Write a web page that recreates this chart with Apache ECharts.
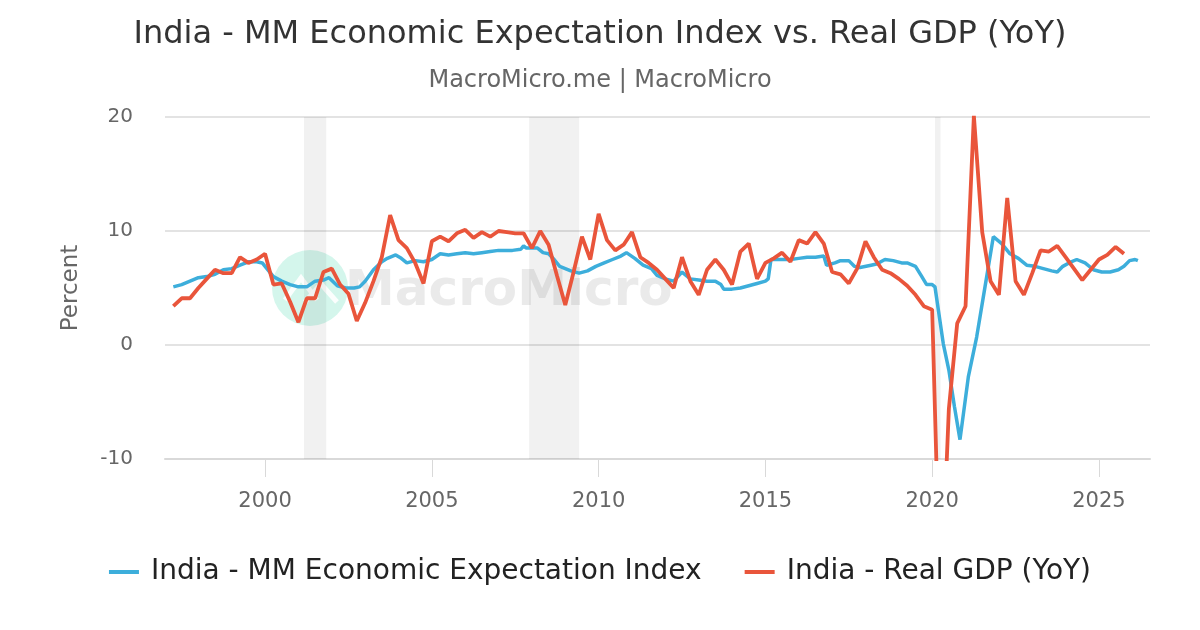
<!DOCTYPE html>
<html>
<head>
<meta charset="utf-8">
<script src="https://cdn.jsdelivr.net/npm/echarts@6/dist/echarts.min.js"></script>
<style>html,body{margin:0;padding:0;background:#fff}#chart{width:1200px;height:630px}</style>
</head>
<body>
<div id="chart"></div>
<script>
// ---- Data ----
const titleText = 'India - MM Economic Expectation Index vs. Real GDP (YoY)';
const subtitleText = 'MacroMicro.me | MacroMicro';
const seriesNames = ['India - MM Economic Expectation Index', 'India - Real GDP (YoY)'];
const yTicks = [-10, 0, 10, 20];
const xTickYears = [2000, 2005, 2010, 2015, 2020, 2025];

// MM Economic Expectation Index
const eeiDates = [
  '1997-04','1997-07','1997-10','1998-01','1998-04','1998-07','1998-10','1999-01','1999-04','1999-07','1999-10','1999-12',
  '2000-01','2000-04','2000-07','2000-10','2001-01','2001-04','2001-07','2001-10','2001-12',
  '2002-03','2002-06','2002-09','2002-11','2003-01','2003-04','2003-07','2003-09','2003-12',
  '2004-02','2004-04','2004-07','2004-10','2005-01','2005-04','2005-07','2005-10',
  '2006-01','2006-04','2006-07','2006-10','2007-01','2007-06','2007-09','2007-10','2007-11',
  '2008-03','2008-05','2008-07','2008-09','2008-11','2009-03','2009-06','2009-09','2009-12',
  '2010-03','2010-06','2010-09','2010-11','2011-02','2011-05','2011-08','2011-10',
  '2012-01','2012-04','2012-07','2012-10','2013-01','2013-04','2013-07','2013-09','2013-10',
  '2014-01','2014-04','2014-07','2014-10','2015-01','2015-02','2015-03','2015-05','2015-08','2015-10',
  '2016-01','2016-04','2016-07','2016-10','2016-11','2017-02','2017-04','2017-07','2017-09','2017-11',
  '2018-03','2018-05','2018-08','2018-11','2019-02','2019-04','2019-07','2019-09','2019-11',
  '2020-01','2020-02','2020-05','2020-07','2020-09','2020-11','2021-02','2021-05','2021-08','2021-11',
  '2022-02','2022-05','2022-08','2022-11','2023-02','2023-05','2023-08','2023-10','2023-12',
  '2024-03','2024-05','2024-08','2024-11','2025-02','2025-05','2025-08','2025-10','2025-12',
  '2026-02','2026-03'
];
const eeiValues = [
  5.1,5.3,5.6,5.9,6.0,6.2,6.6,6.7,7.0,7.3,7.3,7.2,
  6.9,6.0,5.6,5.3,5.1,5.1,5.6,5.7,5.9,
  5.2,5.0,5.0,5.1,5.6,6.6,7.3,7.6,7.9,
  7.6,7.2,7.4,7.3,7.5,8.0,7.9,8.0,
  8.1,8.0,8.1,8.2,8.3,8.3,8.4,8.7,8.5,
  8.5,8.1,8.0,7.5,6.9,6.5,6.3,6.5,6.9,
  7.2,7.5,7.8,8.1,7.6,7.0,6.7,6.1,
  5.8,5.6,6.4,5.8,5.7,5.6,5.6,5.3,4.9,
  4.9,5.0,5.2,5.4,5.6,5.8,7.5,7.5,7.5,7.5,
  7.6,7.7,7.7,7.8,7.0,7.2,7.4,7.4,6.9,6.8,
  7.0,7.1,7.5,7.4,7.2,7.2,6.9,6.1,5.3,
  5.3,5.1,0.1,-2.2,-5.4,-8.3,-2.8,0.7,5.1,9.5,
  8.9,8.0,7.6,7.0,6.9,6.7,6.5,6.4,6.9,
  7.3,7.5,7.2,6.6,6.4,6.4,6.6,6.9,7.4,
  7.5,7.4
];

// Real GDP YoY, quarterly from 1997 Q2
const gdpFirstYear = 1997, gdpFirstQuarter = 2;
const gdpValues = [
  3.4,4.1,4.1,
  5.0,5.8,6.6,6.3,
  6.3,7.7,7.2,7.5,
  8.0,5.3,5.4,3.8,
  2.0,4.1,4.1,6.4,
  6.7,5.3,4.5,2.1,
  3.7,5.6,7.7,11.4,
  9.2,8.5,7.2,5.4,
  9.1,9.5,9.1,9.8,
  10.1,9.4,9.9,9.5,
  10.0,9.9,9.8,9.8,
  8.5,10.0,8.8,6.1,
  3.5,6.4,9.5,7.5,
  11.5,9.2,8.3,8.8,
  9.9,7.7,7.2,6.6,
  5.8,5.0,7.7,5.6,
  4.4,6.6,7.5,6.6,
  5.3,8.2,8.9,5.8,
  7.2,7.6,8.1,7.3,
  9.2,8.9,9.9,8.9,
  6.4,6.2,5.4,6.7,
  9.1,7.7,6.6,6.3,
  5.8,5.2,4.4,3.4,
  3.1,-23.4,-5.6,1.9,
  3.4,20.1,9.9,5.6,
  4.4,12.9,5.6,4.4,
  6.3,8.3,8.2,8.7,
  7.7,6.7,5.7,6.6,
  7.5,7.9,8.6,8.0
];

// Recession periods (shaded)
const recessions = [['2001-03','2001-11'], ['2007-12','2009-06'], ['2020-02','2020-04']];
const xStart = '1997-01', xEnd = '2026-07';

// ---- Build ----
// convert 'YYYY-MM' to a decimal year position on the value axis
const toYear = s => { const p = s.split('-'); return +p[0] + (+p[1] - 1) / 12; };
const gdpDates = gdpValues.map((_, i) => {
  const q = gdpFirstQuarter - 1 + i;
  const y = gdpFirstYear + Math.floor(q / 4);
  const m = (q % 4) * 3 + 1;
  return y + '-' + String(m).padStart(2, '0');
});
const eeiData = eeiDates.map((d, i) => [toYear(d), eeiValues[i]]);
const gdpData = gdpDates.map((d, i) => [toYear(d), gdpValues[i]]);

const FONT = 'DejaVu Sans';
const chart = echarts.init(document.getElementById('chart'), null, {renderer: 'canvas'});
chart.setOption({
  animation: false,
  backgroundColor: '#ffffff',
  textStyle: {fontFamily: FONT},
  title: {
    text: titleText,
    subtext: subtitleText,
    left: 'center',
    top: 14,
    itemGap: 18,
    textStyle: {fontFamily: FONT, fontSize: 32, fontWeight: 'normal', color: '#333333'},
    subtextStyle: {fontFamily: FONT, fontSize: 24, color: '#666666'}
  },
  graphic: [
    {type: 'circle', shape: {cx: 310, cy: 288, r: 38}, style: {fill: 'rgba(160,236,212,0.45)'}, z: 0, silent: true},
    {type: 'polyline', shape: {points: [[285,300],[301,278],[317,300]]}, style: {stroke: 'rgba(255,255,255,0.9)', lineWidth: 5, fill: null}, z: 0, silent: true},
    {type: 'polyline', shape: {points: [[305,302],[321,284],[337,302]]}, style: {stroke: 'rgba(255,255,255,0.9)', lineWidth: 5, fill: null}, z: 0, silent: true},
    {type: 'text', left: 345, top: 267, style: {text: 'MacroMicro', font: 'bold 50px "DejaVu Sans"', fill: 'rgba(150,150,150,0.2)'}, z: 0, silent: true}
  ],
  legend: {
    data: seriesNames,
    top: 553,
    left: 'center',
    icon: 'rect',
    itemWidth: 30,
    itemHeight: 4,
    itemGap: 43,
    textStyle: {fontFamily: FONT, fontSize: 28, color: '#222222', padding: [0, 0, 0, 7]}
  },
  grid: {left: 165, right: 50, top: 117, bottom: 171, containLabel: false},
  xAxis: {
    type: 'value',
    min: toYear(xStart),
    max: toYear(xEnd) + 0.03,
    axisLine: {show: true, onZero: false, lineStyle: {color: '#d9d9d9', width: 2}},
    axisTick: {show: true, customValues: xTickYears, length: 18, lineStyle: {color: '#d9d9d9', width: 1}},
    axisLabel: {
      customValues: xTickYears,
      formatter: v => String(Math.round(v)),
      fontFamily: FONT, fontSize: 21, color: '#666666', margin: 32
    },
    splitLine: {show: false}
  },
  yAxis: {
    type: 'value',
    min: yTicks[0],
    max: yTicks[yTicks.length - 1],
    interval: 10,
    name: 'Percent',
    nameLocation: 'middle',
    nameGap: 82,
    nameRotate: 90,
    nameTextStyle: {fontFamily: FONT, fontSize: 23, color: '#666666'},
    axisLine: {show: false},
    axisTick: {show: false},
    axisLabel: {fontFamily: FONT, fontSize: 20, color: '#666666', margin: 32},
    splitLine: {lineStyle: {color: '#e3e3e3', width: 2}}
  },
  series: [
    {
      name: seriesNames[0],
      type: 'line',
      data: eeiData,
      showSymbol: false,
      symbol: 'none',
      lineStyle: {color: '#3DAEDB', width: 3.5},
      itemStyle: {color: '#3DAEDB'},
      z: 3,
      markArea: {
        silent: true,
        itemStyle: {color: 'rgba(0,0,0,0.055)'},
        data: recessions.map(r => [{xAxis: toYear(r[0])}, {xAxis: toYear(r[1])}])
      }
    },
    {
      name: seriesNames[1],
      type: 'line',
      data: gdpData,
      showSymbol: false,
      symbol: 'none',
      lineStyle: {color: '#E9553B', width: 3.8},
      itemStyle: {color: '#E9553B'},
      z: 4
    }
  ]
});
</script>
</body>
</html>
